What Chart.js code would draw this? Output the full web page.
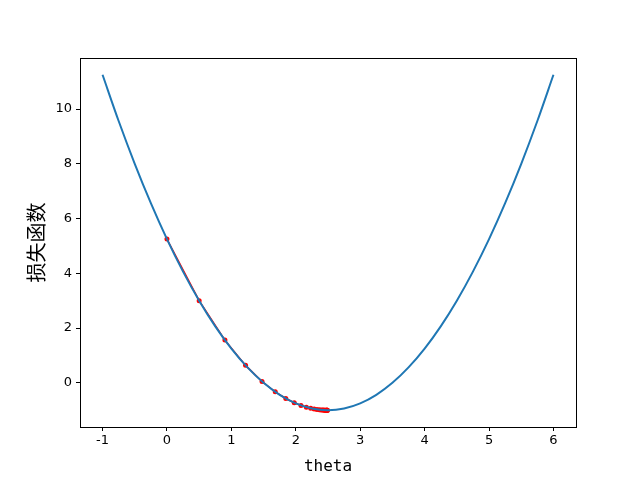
<!DOCTYPE html>
<html>
<head>
<meta charset="utf-8">
<script src="https://cdn.jsdelivr.net/npm/chart.js@4/dist/chart.umd.min.js"></script>
<style>
  html, body { margin: 0; padding: 0; background: #fff; }
  #wrap { width: 640px; height: 480px; }
</style>
</head>
<body>
<div id="wrap"><canvas id="chart" width="640" height="480"></canvas></div>
<script>
// loss curve J(theta), sampled off the plot
var curveX = [-1, -0.75, -0.5, -0.25, 0, 0.25, 0.5, 0.75, 1, 1.25, 1.5, 1.75, 2, 2.25, 2.5,
  2.75, 3, 3.25, 3.5, 3.75, 4, 4.25, 4.5, 4.75, 5, 5.25, 5.5, 5.75, 6];
var curveY = [11.25, 9.5625, 8, 6.5625, 5.25, 4.0625, 3, 2.0625, 1.25, 0.5625, 0, -0.4375, -0.75, -0.9375, -1,
  -0.9375, -0.75, -0.4375, 0, 0.5625, 1.25, 2.0625, 3, 4.0625, 5.25, 6.5625, 8, 9.5625, 11.25];

// gradient descent steps (red)
var stepX = [0, 0.5, 0.9, 1.22, 1.476, 1.681, 1.845, 1.976, 2.081, 2.164, 2.232, 2.285, 2.328,
  2.363, 2.390, 2.412, 2.430, 2.444, 2.455, 2.464, 2.471, 2.477, 2.482, 2.485, 2.488, 2.491];
var stepY = [5.25, 3.0, 1.56, 0.638, 0.049, -0.329, -0.571, -0.725, -0.824, -0.887, -0.928, -0.954, -0.970,
  -0.981, -0.988, -0.992, -0.995, -0.997, -0.998, -0.9987, -0.9992, -0.9995, -0.9997, -0.9998, -0.9999, -0.9999];

var xTicks = [-1, 0, 1, 2, 3, 4, 5, 6];
var yTicks = [0, 2, 4, 6, 8, 10];

function pts(xs, ys) {
  return xs.map(function (x, i) { return { x: x, y: ys[i] }; });
}

var frame = {
  id: 'frame',
  afterDraw: function (c) {
    var a = c.chartArea, ctx = c.ctx;
    ctx.save();
    ctx.strokeStyle = '#000';
    ctx.lineWidth = 1;
    ctx.strokeRect(Math.round(a.left) + 0.5, Math.round(a.top) + 0.5,
      Math.round(a.right - a.left), Math.round(a.bottom - a.top));
    ctx.restore();
  }
};

new Chart(document.getElementById('chart'), {
  type: 'line',
  data: {
    datasets: [{
      data: pts(curveX, curveY),
      borderColor: '#1f77b4',
      borderWidth: 2,
      pointRadius: 0,
      cubicInterpolationMode: 'monotone',
      order: 0
    }, {
      data: pts(stepX, stepY),
      borderColor: '#ff0000',
      borderWidth: 1.5,
      pointRadius: 2.5,
      pointBackgroundColor: '#ff0000',
      pointBorderWidth: 0,
      order: 1
    }]
  },
  plugins: [frame],
  options: {
    responsive: false,
    animation: false,
    layout: { padding: { top: 58, right: 64, left: 0, bottom: 0 } },
    plugins: { legend: { display: false }, tooltip: { enabled: false } },
    scales: {
      x: {
        type: 'linear', min: -1.35, max: 6.35,
        afterBuildTicks: function (s) { s.ticks = xTicks.map(function (v) { return { value: v }; }); },
        afterFit: function (s) { s.height = 53; },
        grid: { display: true, drawOnChartArea: false, drawTicks: true, tickLength: 4, color: '#000' },
        border: { display: false },
        ticks: { color: '#000', font: { family: 'DejaVu Sans', size: 13 }, padding: 2, maxRotation: 0 },
        title: { display: true, text: 'theta', color: '#000', font: { family: 'DejaVu Sans Mono', size: 16 }, padding: { top: 2 } }
      },
      y: {
        type: 'linear', min: -1.6125, max: 11.8625,
        afterBuildTicks: function (s) { s.ticks = yTicks.map(function (v) { return { value: v }; }); },
        afterFit: function (s) { s.width = 80; },
        grid: { display: true, drawOnChartArea: false, drawTicks: true, tickLength: 4, color: '#000' },
        border: { display: false },
        ticks: { color: '#000', font: { family: 'DejaVu Sans', size: 13 }, padding: 4 },
        title: { display: true, text: '损失函数', color: '#000', font: { family: 'Noto Sans CJK SC', size: 20 }, padding: { top: 24, bottom: 0 } }
      }
    }
  }
});
</script>
</body>
</html>
